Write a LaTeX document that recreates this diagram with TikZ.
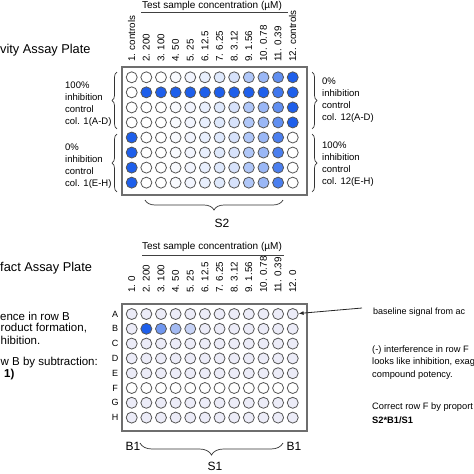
\documentclass[tikz,border=0pt]{standalone}
\usepackage{fontspec}
\setmainfont{Liberation Sans}
\usetikzlibrary{decorations.pathreplacing,arrows.meta}
\definecolor{wblue}{RGB}{30,95,235}
\definecolor{lav}{RGB}{236,236,248}
\definecolor{wline}{RGB}{85,85,85}
\definecolor{plateline}{RGB}{110,110,110}
\begin{document}
\begin{tikzpicture}[x=1pt,y=-1pt,
  well/.style={circle,draw=wline,line width=0.8pt,minimum size=11pt,inner sep=0pt},
  plateframe/.style={draw=plateline,line width=1.3pt},
  sidelbl/.style={font=\fontsize{9.5}{12}\selectfont,align=left,anchor=west,inner sep=0pt},
  collbl/.style={rotate=90,anchor=west,font=\fontsize{9.8}{11}\selectfont,inner sep=0pt},
  rowlbl/.style={font=\fontsize{9}{10}\selectfont,inner sep=0pt},
  brc/.style={decorate,decoration={brace,amplitude=#1},line width=0.7pt,draw=black!80},
  brc/.default=5,
  title/.style={font=\fontsize{10}{12}\selectfont,inner sep=0pt},
  big/.style={font=\fontsize{12.8}{15}\selectfont,inner sep=0pt,anchor=west},
  note/.style={font=\fontsize{11.5}{12}\selectfont,inner sep=0pt,anchor=west},
  rnote/.style={font=\fontsize{9.3}{12}\selectfont,inner sep=0pt,anchor=west},
  brlbl/.style={font=\fontsize{12}{14}\selectfont,inner sep=0pt}
]
\useasboundingbox (0,0) rectangle (474,474);
\clip (0,0) rectangle (474,474);

% ---------------- top plate ----------------
\node[big] (ttl1) at (0,50) {vity Assay Plate};
\node[title] (tt1) at (212,6) {Test sample concentration (µM)};
\draw[black!75,line width=0.8pt] (141,12) -- (288,12);

\draw[plateframe] (122,67) rectangle (307,195);
\def\topAD{{0,0,0,3,6,10,14,18,35,45,70,100}}
\def\topB{{0,100,100,100,100,100,100,100,100,100,85,100}}
\def\topEH{{100,0,0,3,6,10,14,18,35,45,80,0}}
\foreach \r in {1,...,8}{
  \foreach \c in {1,...,12}{
    \ifnum\r=2 \pgfmathtruncatemacro\lev{\topB[\c-1]}\else
      \ifnum\r<5 \pgfmathtruncatemacro\lev{\topAD[\c-1]}\else
        \pgfmathtruncatemacro\lev{\topEH[\c-1]}\fi\fi
    \node[well,fill=wblue!\lev!white] (t-\r-\c) at ({131.7+14.64*(\c-1)},{77.3+15.05*(\r-1)}) {};
  }
}
\foreach \c/\t in {1/1. controls,2/2. 200,3/3. 100,4/4. 50,5/5. 25,6/6. 12.5,7/7. 6.25,8/8. 3.12,9/9. 1.56,10/10. 0.78,11/11. 0.39,12/12. controls}{
  \node[collbl] (tc-\c) at ({131.7+14.64*(\c-1)},62) {\t};
}
% side braces
\draw[brc] (117,129) -- (117,72);
\draw[brc] (117,192) -- (117,134);
\draw[brc] (312,72) -- (312,129);
\draw[brc] (312,134) -- (312,192);
\node[sidelbl] (l1) at (65,104) {100\%\\inhibition\\control\\col. 1(A-D)};
\node[sidelbl] (l2) at (65,166) {0\%\\inhibition\\control\\col. 1(E-H)};
\node[sidelbl] (r1) at (322,100) {0\%\\inhibition\\control\\col. 12(A-D)};
\node[sidelbl] (r2) at (322,164) {100\%\\inhibition\\control\\col. 12(E-H)};
\draw[brc=10] (283,200) -- (145,200);
\node[brlbl] (s2) at (222,223) {S2};

% ---------------- bottom plate ----------------
\node[big] (ttl2) at (0,268) {fact Assay Plate};
\node[title] (tt2) at (212,247) {Test sample concentration (µM)};
\draw[black!75,line width=0.8pt] (142,255) -- (284,255);

\draw[plateframe] (122,304) rectangle (307,431);
\def\botB{{0,100,60,35,18,0,0,0,0,0,0,0}}
\foreach \r in {1,...,8}{
  \foreach \c in {1,...,12}{
    \ifnum\r=2 \pgfmathtruncatemacro\lev{\botB[\c-1]}\def\fc{wblue!\lev!lav}\else
      \ifnum\r=6 \def\fc{white}\else \def\fc{lav}\fi\fi
    \node[well,fill=\fc] (b-\r-\c) at ({131.7+14.64*(\c-1)},{314+14.8*(\r-1)}) {};
  }
}
\foreach \r/\t in {1/A,2/B,3/C,4/D,5/E,6/F,7/G,8/H}{
  \node[rowlbl] (rl-\r) at (115,{314+14.8*(\r-1)}) {\t};
}
\foreach \c/\t in {1/1. 0,2/2. 200,3/3. 100,4/4. 50,5/5. 25,6/6. 12.5,7/7. 6.25,8/8. 3.12,9/9. 1.56,10/10. 0.78,11/11. 0.39,12/12. 0}{
  \node[collbl] (bc-\c) at ({131.7+14.64*(\c-1)},293) {\t};
}
\node[brlbl] (b1l) at (133,446) {B1};
\node[brlbl] (b1r) at (294,446) {B1};
\draw[brc=12] (283,443) -- (140,443);
\node[brlbl] (s1) at (215,466) {S1};

% left notes
\node[note] (n1) at (0,316) {ence in row B};
\node[note] (n2) at (0.5,328) {roduct formation,};
\node[note] (n3) at (0.5,340) {hibition.};
\node[note] (n4) at (0.5,363) {w B by subtraction:};
\node[note,font=\fontsize{11.5}{12}\selectfont\bfseries] (n5) at (4,375) {1)};

% right notes
\node[rnote,font=\fontsize{9}{10}\selectfont] (bl) at (373,312) {baseline signal from ac};
\coordinate (ast) at (362,308);
\draw[black!85,line width=0.8pt,-{Latex[length=5pt,width=4pt]}] (ast) -- (b-1-12);
\node[rnote] (m1) at (372,350) {(-) interference in row F};
\node[rnote] (m2) at (372,362.5) {looks like inhibition, exag};
\node[rnote] (m3) at (372,375) {compound potency.};
\node[rnote] (m4) at (372,407) {Correct row F by proport};
\node[rnote,font=\fontsize{9.3}{12}\selectfont\bfseries] (m5) at (372,420) {S2*B1/S1};
\end{tikzpicture}
\end{document}
